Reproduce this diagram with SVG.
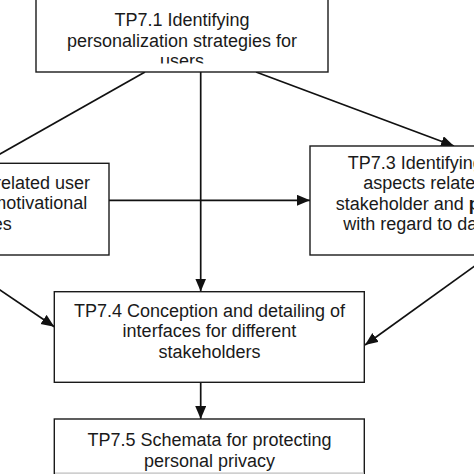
<svg xmlns="http://www.w3.org/2000/svg" width="474" height="474" viewBox="0 0 474 474">
<style>
.box{fill:#fff;stroke:#1a1a1a;stroke-width:1.4}
.t{font-family:"Liberation Sans",Arial,sans-serif;font-size:18px;fill:#1a1a1a}
.c{text-anchor:middle}
.e{text-anchor:end}
.ln{stroke:#111;stroke-width:1.7;fill:none;marker-end:url(#ah)}
</style>
<defs>
<marker id="ah" markerUnits="userSpaceOnUse" markerWidth="14" markerHeight="12" refX="13" refY="5.5" orient="auto">
<path d="M0,0 L13,5.5 L0,11 z" fill="#111"/>
</marker>
<clipPath id="c1"><rect x="0" y="0" width="474" height="63.5"/></clipPath>
<clipPath id="c5"><rect x="0" y="419" width="474" height="53"/></clipPath>
</defs>
<rect x="0" y="0" width="474" height="474" fill="#fff"/>
<g id="connectors">
<line class="ln" x1="145" y1="72" x2="-16" y2="163"/>
<line class="ln" x1="200.7" y1="72" x2="200.7" y2="291.5"/>
<line class="ln" x1="256" y1="72" x2="454" y2="146"/>
<line class="ln" x1="109" y1="200.3" x2="310" y2="200.3"/>
<line class="ln" x1="-52" y1="255" x2="54.3" y2="326.7"/>
<line class="ln" x1="490" y1="255" x2="365" y2="345"/>
<line class="ln" x1="200.7" y1="382.3" x2="200.7" y2="419"/>
</g>
<g id="tp71">
<rect class="box" x="36" y="-10" width="292" height="82"/>
<g clip-path="url(#c1)">
<text class="t c" x="182" y="26">TP7.1 Identifying</text>
<text class="t c" x="182" y="46.7">personalization strategies for</text>
<text class="t c" x="182" y="67.4">users</text>
</g>
</g>
<g id="tp72">
<rect class="box" x="-120" y="163.3" width="229" height="91.7"/>
<text class="t e" x="90" y="188.5">related user</text>
<text class="t e" x="87.3" y="209.2">motivational</text>
<text class="t e" x="11.8" y="229.9">es</text>
</g>
<g id="tp73">
<rect class="box" x="310" y="146" width="200" height="109"/>
<text class="t" x="347.7" y="168.5">TP7.3 Identifying</text>
<text class="t" x="363.3" y="189">aspects related</text>
<text class="t" x="335.7" y="209.5">stakeholder and <tspan font-weight="bold">privacy</tspan></text>
<text class="t" x="343.3" y="230">with regard to data</text>
</g>
<g id="tp74">
<rect class="box" x="54.3" y="291.7" width="310" height="90.6"/>
<text class="t c" x="209.5" y="316.5">TP7.4 Conception and detailing of</text>
<text class="t c" x="209.5" y="337.2">interfaces for different</text>
<text class="t c" x="209.5" y="357.9">stakeholders</text>
</g>
<g id="tp75">
<rect class="box" x="54.3" y="419" width="310" height="70"/>
<g clip-path="url(#c5)">
<text class="t c" x="209.5" y="446">TP7.5 Schemata for protecting</text>
<text class="t c" x="209.5" y="466.7">personal privacy</text>
</g>
<rect x="55" y="472.3" width="308.6" height="1.7" fill="#cfcfcf"/>
</g>
</svg>
